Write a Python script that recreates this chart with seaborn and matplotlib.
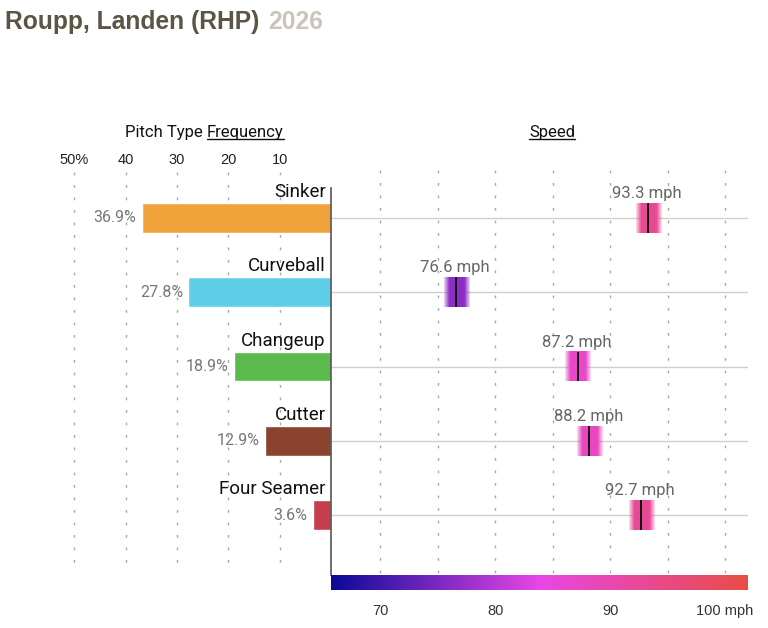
import numpy as np
import pandas as pd
import matplotlib.pyplot as plt
import matplotlib.colors as mcolors
from matplotlib.lines import Line2D
import seaborn as sns

pitches = ['Sinker', 'Curveball', 'Changeup', 'Cutter', 'Four Seamer']
usage = [36.9, 27.8, 18.9, 12.9, 3.6]
speed = [93.3, 76.6, 87.2, 88.2, 92.7]
bar_colors = ['#f0a33a', '#5dcfe8', '#5aba4c', '#8b4330', '#c63d4e']
freq_ticks = [10, 20, 30, 40, 50]
freq_labels = ['10', '20', '30', '40', '50%']
speed_grid = [70, 75, 80, 85, 90, 95, 100]
speed_ticks = [70, 80, 90, 100]
speed_labels = ['70', '80', '90', '100 mph']

df = pd.DataFrame({'pitch': pitches, 'usage': usage, 'speed': speed})

sns.set_style('white')
plt.rcParams['font.family'] = ['Roboto', 'DejaVu Sans']

W, H = 768, 628
fig = plt.figure(figsize=(7.68, 6.28), dpi=100)


def px(x0, y0, x1, y1):
    return [x0 / W, 1 - y1 / H, (x1 - x0) / W, (y1 - y0) / H]


ROW = 74.25
y_top = (170 - 218) / ROW
y_bot = (575 - 218) / ROW
smin, smax = 65.7, 102.0

cmap = mcolors.LinearSegmentedColormap.from_list(
    'speed', [(0, '#0b0a98'), (0.5, '#e846e6'), (1, '#e84d45')])
norm = mcolors.Normalize(smin, smax)

# --- frequency panel (bars grow to the left)
ax1 = fig.add_axes(px(59, 170, 331, 575))
sns.barplot(data=df, x='usage', y='pitch', hue='pitch', palette=bar_colors,
            width=0.4, saturation=1, legend=False, orient='h', ax=ax1)
ax1.vlines(freq_ticks, (172 - 218) / ROW, (572 - 218) / ROW, color='#a8a8a8',
           lw=1, linestyles=(0, (2, 7)), zorder=0)
ax1.set_xlim(53, 0)
ax1.set_ylim(y_bot, y_top)
ax1.xaxis.tick_top()
ax1.set_xticks(freq_ticks, freq_labels, fontsize=10.5, color='#222',
               family=['Liberation Sans'])
ax1.tick_params(axis='x', length=0, pad=2)
ax1.set_yticks([])
ax1.set_xlabel('')
ax1.set_ylabel('')
for s in ax1.spines.values():
    s.set_visible(False)

for i, (name, u) in enumerate(zip(pitches, usage)):
    ax1.text(u + 1.0, i, f'{u}%', ha='right', va='center', fontsize=11.5,
             color='#777777')
    ax1.text(1.0, i - 0.2 - 6 / ROW, name, ha='right', va='baseline',
             fontsize=13.5, color='#111111')

# --- speed panel
ax2 = fig.add_axes(px(331, 170, 748, 575))
ax2.hlines(range(len(pitches)), smin, smax, color='#cfcfcf', lw=1, zorder=1)
ax2.vlines(speed_grid, y_top, y_bot, color='#a8a8a8', lw=1,
           linestyles=(0, (2, 7)), zorder=0)

t = np.linspace(-1, 1, 51)
alpha = np.clip(1 - (np.abs(t) - 0.6) / 0.4 * 0.8, 0.2, 1)
for i, s in enumerate(speed):
    rgba = np.zeros((1, len(t), 4))
    rgba[0, :, :3] = cmap(norm(s))[:3]
    rgba[0, :, 3] = alpha
    ax2.imshow(rgba, extent=(s - 1.09, s + 1.09, i + 0.2, i - 0.2),
               aspect='auto', interpolation='bilinear', zorder=3)
    ax2.vlines(s, i - 0.2, i + 0.2, color='black', lw=1.3, zorder=4)
    ax2.text(s - 0.1, i - 0.2 - 5 / ROW, f'{s} mph', ha='center',
             va='baseline', fontsize=12, color='#666666')

ax2.set_xlim(smin, smax)
ax2.set_ylim(y_bot, y_top)
ax2.set_xticks([])
ax2.set_yticks([])
for k, s in ax2.spines.items():
    s.set_visible(k == 'left')
ax2.spines['left'].set_color('#555555')
ax2.spines['left'].set_linewidth(1.2)
ax2.spines['left'].set_bounds(y_bot, (188 - 218) / ROW)

# --- colour scale
cax = fig.add_axes(px(331, 575, 748, 590))
cax.imshow(np.linspace(0, 1, 256)[None, :], cmap=cmap,
           extent=(smin, smax, 0, 1), aspect='auto')
cax.set_xlim(smin, smax)
cax.set_xticks(speed_ticks, speed_labels, fontsize=10.5, color='#333',
               family=['Liberation Sans'])
cax.tick_params(axis='x', length=0, pad=10)
cax.set_yticks([])
for s in cax.spines.values():
    s.set_visible(False)

# --- headers and title
title = fig.text(5 / W, 1 - 29 / H, 'Roupp, Landen (RHP)', fontsize=17.7,
                 weight='bold', color='#5c5545', va='baseline',
                 family=['Liberation Sans'])
fig.text(207 / W, 1 - 137 / H, 'Pitch Type ', ha='right', va='baseline',
         fontsize=12, color='#111')
freq_hdr = fig.text(207 / W, 1 - 137 / H, 'Frequency', ha='left',
                    va='baseline', fontsize=12, color='#111')
speed_hdr = fig.text(552 / W, 1 - 137 / H, 'Speed', ha='center',
                     va='baseline', fontsize=12, color='#111')

renderer = fig.canvas.get_renderer()
tb = title.get_window_extent(renderer)
fig.text((tb.x1 + 9) / W, 1 - 29 / H, '2026', fontsize=17.7, weight='bold',
         color='#c9c5bb', va='baseline', family=['Liberation Sans'])
for hdr in (freq_hdr, speed_hdr):
    bb = hdr.get_window_extent(renderer)
    y = (H - 139) / H
    fig.add_artist(Line2D([bb.x0 / W, bb.x1 / W], [y, y], color='#111',
                          lw=1, transform=fig.transFigure))

fig.savefig('out.png', dpi=100)
